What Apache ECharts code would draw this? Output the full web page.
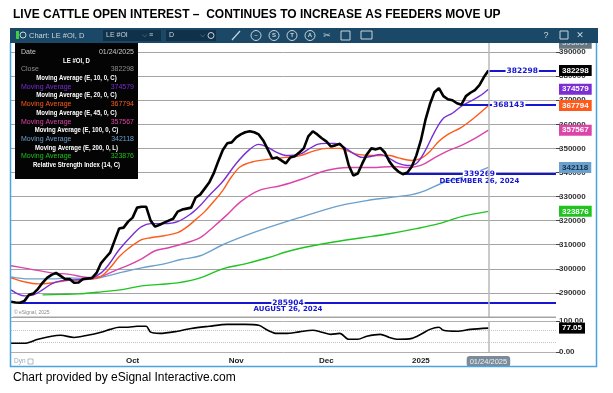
<!DOCTYPE html>
<html><head><meta charset="utf-8">
<script src="https://cdn.jsdelivr.net/npm/echarts/dist/echarts.min.js"></script>
<style>html,body{margin:0;padding:0;background:#fff}#c{width:613px;height:393px}</style>
</head><body><div id="c"></div>
<script>
// ---------------- DATA ----------------
const START_DATE = '2024-08-22';
const HOLIDAYS = ['2024-09-02','2024-11-28','2024-12-25','2025-01-01','2025-01-20'];
const FUTURE_DAYS = 15;
const closeVals = [
 286300,286000,285904,286700,289200,289800,291700,294200,296250,297500,
 298300,297100,295800,295800,294200,294300,295800,296000,296200,298300,
 302400,304600,306700,311700,316700,317100,319600,321250,325400,325800,
 325800,320000,317500,318300,319200,320000,320800,323750,324600,325000,
 325400,329600,330800,333300,335800,339600,344600,349200,352100,352500,
 354600,355800,356700,357100,356700,355800,353300,349600,345800,346250,
 345000,343750,346250,346700,348300,350000,355000,357100,355800,354200,
 352900,350800,351250,351900,350000,342900,338750,339600,343750,347500,
 350000,349600,350200,348300,344600,342100,340400,339269,340000,342500,
 347100,353300,361700,368300,373300,375000,371700,370400,370000,368750,
 368143,371700,373100,374200,376250,379600,382298
];
const ma10 = [[0,291250],[3,288750],[5,289170],[7,291250],[9,293750],[11,295000],[14,295420],[17,295630],[20,298330],[22,302500],[24,307920],[27,314170],[29,317500],[31,318750],[34,318750],[37,319580],[40,322920],[42,326250],[44,330420],[47,336250],[50,343750],[53,349580],[55,351670],[57,350420],[59,348330],[61,347080],[64,347500],[66,349580],[68,351670],[70,352080],[72,352080],[74,350420],[76,347920],[78,346250],[80,346670],[82,347500],[84,345830],[86,343750],[88,342920],[90,343750],[92,349170],[94,356670],[96,362500],[98,364580],[100,367500],[102,369580],[104,371670],[106,374579]];
const ma20 = [[0,296250],[3,294580],[6,293750],[9,294170],[12,295000],[15,295420],[18,295830],[20,296880],[22,300420],[24,305000],[26,308330],[29,312080],[31,312920],[34,313750],[37,315000],[39,317290],[41,320420],[43,323750],[45,327920],[47,332500],[49,338330],[51,342500],[54,344580],[57,345420],[61,346250],[64,346880],[67,348750],[70,350000],[73,350000],[75,348750],[77,347500],[80,347080],[84,347080],[86,346040],[89,345000],[91,345830],[93,348750],[95,352920],[97,355830],[100,358750],[103,362920],[106,367794]];
const ma45 = [[0,301250],[4,300000],[9,298330],[13,297710],[17,296460],[20,296880],[23,299170],[26,301460],[29,304170],[32,307500],[35,308750],[39,310830],[42,312920],[45,317500],[48,322500],[51,327920],[55,332500],[60,334580],[65,337500],[70,340830],[75,342080],[80,342080],[85,342500],[88,342080],[91,342920],[94,346040],[97,348960],[100,351250],[103,354170],[106,357567]];
const ma100 = [[0,296670],[4,295830],[9,295830],[13,296250],[18,295830],[21,296880],[25,298750],[29,300420],[34,302080],[38,303960],[42,305420],[47,310000],[52,313750],[57,317080],[64,321250],[73,326250],[79,328330],[84,329580],[89,330830],[92,332500],[96,335830],[99,337290],[102,339170],[106,342118]];
const ma200 = [[7,289170],[11,289380],[15,289580],[20,290420],[25,291460],[29,292920],[33,293540],[37,294170],[42,296250],[47,300000],[52,302080],[57,304580],[62,307500],[67,309580],[72,311250],[78,312920],[84,314580],[90,316670],[95,318750],[100,321670],[106,323876]];
const rsi = [[0,28],[3,28],[6,41],[9,51],[11,54],[14,47],[17,54],[20,64],[22,73],[24,80],[26,80],[28,83],[30,83],[31,64],[33,60],[37,67],[40,76],[44,83],[48,89],[52,89],[55,86],[57,70],[59,60],[61,60],[64,65],[67,70],[69,64],[71,57],[73,60],[75,41],[77,41],[79,51],[82,57],[84,47],[86,41],[89,44],[91,57],[93,73],[95,80],[96,70],[99,67],[102,73],[106,77.05]];
const maNames = ['E, 10, 0, C','E, 20, 0, C','E, 45, 0, C','E, 100, 0, C','E, 200, 0, L'];
const annotations = [
  {idx:2, date:'AUGUST 26, 2024'},
  {idx:87, date:'DECEMBER 26, 2024'},
  {idx:100, date:''},
  {idx:106, date:''}
];
const scaleTopValue = 393657;
const yTicksMain = {min:280000, max:394170, interval:10000};
const monthLabels = {'10':'Oct','11':'Nov','12':'Dec','01':'2025'};
const TITLE = 'LIVE CATTLE OPEN INTEREST \u2013  CONTINUES TO INCREASE AS FEEDERS MOVE UP';
const FOOTER = 'Chart provided by eSignal Interactive.com';

// ---------------- BUILD ----------------
const lastIdx = closeVals.length - 1;
const dates = (function(){
  const hol = new Set(HOLIDAYS), out = [];
  const d = new Date(START_DATE + 'T00:00:00Z');
  while (out.length < closeVals.length + FUTURE_DAYS) {
    const wd = d.getUTCDay(), s = d.toISOString().slice(0,10);
    if (wd !== 0 && wd !== 6 && !hol.has(s)) out.push(s);
    d.setUTCDate(d.getUTCDate() + 1);
  }
  return out;
})();
const lastCat = dates.length - 1;
const fmtDate = s => s.slice(5,7) + '/' + s.slice(8,10) + '/' + s.slice(0,4);
const labelAt = {};
for (let i = 1; i < dates.length; i++) {
  const m = dates[i].slice(5,7);
  if (m !== dates[i-1].slice(5,7) && monthLabels[m] && i <= lastIdx) labelAt[i] = monthLabels[m];
}
const lastOf = a => a[a.length-1][1];

const C = {
  purple:'#7a2ed4', orange:'#ff5a1c', pink:'#dc45a8', steel:'#6ca0cc', green:'#1fc41f', blue:'#1616d2'
};
const FF = 'Liberation Sans, Arial, sans-serif';
const NOLINE = {color:'rgba(0,0,0,0)', width:0.01, type:'solid'};
function tag(value, bg, fg, text) {
  return { yAxis: value, lineStyle:NOLINE,
    label:{show:true, position:'end', distance:3, formatter: text || String(value),
      backgroundColor:bg, color:fg, fontFamily:FF, fontWeight:'bold', fontSize:8, padding:[2,3,1,3]} };
}
function maSeries(name, data, color, tagFg) {
  return { name, type:'line', xAxisIndex:0, yAxisIndex:0, data, showSymbol:false, symbol:'none',
    smooth:0.35, z:3, lineStyle:{color, width:1.4}, itemStyle:{color},
    markLine:{silent:true, symbol:['none','none'], animation:false,
      data:[ tag(lastOf(data), color, tagFg || '#fff') ] } };
}
const annoLines = [];
annotations.forEach(a => {
  const v = closeVals[a.idx];
  annoLines.push([
    {coord:[dates[a.idx], v], lineStyle:{color:C.blue, width:2, type:'solid', opacity:1},
     label:{show:true, position:'middle', verticalAlign:'middle', distance:0, formatter:String(v),
       color:C.blue, fontFamily:'DejaVu Sans, Verdana, sans-serif', fontWeight:'bold', fontSize:7.5,
       backgroundColor:'#fff', padding:[0,1]}},
    {coord:[dates[lastCat], v]}
  ]);
  if (a.date) annoLines.push([
    {coord:[dates[a.idx], v], lineStyle:NOLINE,
     label:{show:true, position:'insideMiddleBottom', distance:3, formatter:a.date,
       color:C.blue, fontFamily:'DejaVu Sans, Verdana, sans-serif', fontWeight:'bold', fontSize:7}},
    {coord:[dates[lastCat], v]}
  ]);
});

// legend box
const legendRows = [
  {l:'Date', r:fmtDate(dates[lastIdx]), lc:'#c9c9c9', rc:'#c9c9c9'},
  {c:'LE #OI, D'},
  {l:'Close', r:String(closeVals[lastIdx]), lc:'#8e8e8e', rc:'#8e8e8e'}
];
const maCols = [C.purple, C.orange, C.pink, C.steel, C.green];
const maLast = [ma10, ma20, ma45, ma100, ma200].map(lastOf);
maNames.forEach((n,i) => {
  legendRows.push({c:'Moving Average (' + n + ')'});
  legendRows.push({l:'Moving Average', r:String(maLast[i]), lc:maCols[i], rc:maCols[i]});
});
legendRows.push({c:'Relative Strength Index (14, C)'});
const gfx = [];
gfx.push({type:'rect', z:100, shape:{x:15, y:43, width:123, height:136}, style:{fill:'#040404'}});
legendRows.forEach((row, k) => {
  const y = 52 + k * 8.7;
  if (row.c) gfx.push({type:'text', z:101, x:76.5, y, scaleX:0.86, style:{text:row.c, fill:'#fff', font:'bold 7px ' + FF, textAlign:'center', textVerticalAlign:'middle'}});
  else {
    gfx.push({type:'text', z:101, x:21, y, style:{text:row.l, fill:row.lc, font:'7px ' + FF, textAlign:'left', textVerticalAlign:'middle'}});
    gfx.push({type:'text', z:101, x:134, y, style:{text:row.r, fill:row.rc, font:'7px ' + FF, textAlign:'right', textVerticalAlign:'middle'}});
  }
});
// toolbar
gfx.push({type:'rect', z:100, shape:{x:10, y:28, width:588, height:15}, style:{fill:'#1a4866'}});
gfx.push({type:'rect', z:101, shape:{x:16, y:31, width:3, height:8}, style:{fill:'#3ccf3c'}});
gfx.push({type:'circle', z:101, shape:{cx:23, cy:35, r:3}, style:{fill:'none', stroke:'#c9d5de', lineWidth:1}});
gfx.push({type:'text', z:101, x:29, y:35.5, style:{text:'Chart: LE #OI, D', fill:'#c9d5de', font:'7.5px ' + FF, textVerticalAlign:'middle'}});
gfx.push({type:'rect', z:101, shape:{x:103, y:30, width:58, height:11}, style:{fill:'#0f3149'}});
gfx.push({type:'text', z:101, x:106, y:35.5, style:{text:'LE #OI', fill:'#c9d5de', font:'7px ' + FF, textVerticalAlign:'middle'}});
gfx.push({type:'text', z:101, x:142, y:35.5, style:{text:'\u2335 \u2261', fill:'#c9d5de', font:'7px ' + FF, textVerticalAlign:'middle'}});
gfx.push({type:'rect', z:101, shape:{x:166, y:30, width:50, height:11}, style:{fill:'#0f3149'}});
gfx.push({type:'text', z:101, x:169, y:35.5, style:{text:'D', fill:'#c9d5de', font:'7px ' + FF, textVerticalAlign:'middle'}});
gfx.push({type:'text', z:101, x:200, y:35.5, style:{text:'\u2335', fill:'#c9d5de', font:'7px ' + FF, textVerticalAlign:'middle'}});
gfx.push({type:'circle', z:101, shape:{cx:211, cy:35.5, r:3}, style:{fill:'none', stroke:'#c9d5de', lineWidth:1}});
gfx.push({type:'line', z:101, shape:{x1:232, y1:40, x2:240, y2:31}, style:{stroke:'#c9d5de', lineWidth:1.2}});
['~','S','T','A'].forEach((t,i) => {
  const cx = 256 + i * 18;
  gfx.push({type:'circle', z:101, shape:{cx, cy:35.5, r:5}, style:{fill:'none', stroke:'#c9d5de', lineWidth:1}});
  gfx.push({type:'text', z:101, x:cx, y:35.5, style:{text:t, fill:'#c9d5de', font:'bold 6px ' + FF, textAlign:'center', textVerticalAlign:'middle'}});
});
gfx.push({type:'text', z:101, x:327, y:35.5, style:{text:'\u2702', fill:'#c9d5de', font:'9px DejaVu Sans', textAlign:'center', textVerticalAlign:'middle'}});
gfx.push({type:'rect', z:101, shape:{x:341, y:31, width:9, height:9}, style:{fill:'none', stroke:'#c9d5de', lineWidth:1}});
gfx.push({type:'rect', z:101, shape:{x:361, y:31, width:11, height:8}, style:{fill:'none', stroke:'#c9d5de', lineWidth:1}});
gfx.push({type:'text', z:101, x:546, y:35.5, style:{text:'?', fill:'#c9d5de', font:'9px ' + FF, textAlign:'center', textVerticalAlign:'middle'}});
gfx.push({type:'rect', z:101, shape:{x:560, y:31, width:8, height:8}, style:{fill:'none', stroke:'#c9d5de', lineWidth:1}});
gfx.push({type:'text', z:101, x:580, y:35.5, style:{text:'\u2715', fill:'#c9d5de', font:'9px DejaVu Sans', textAlign:'center', textVerticalAlign:'middle'}});
// frame
gfx.push({type:'line', z:100, shape:{x1:10.5, y1:43, x2:10.5, y2:367}, style:{stroke:'#49a3e0', lineWidth:1.5}});
gfx.push({type:'line', z:100, shape:{x1:596.5, y1:43, x2:596.5, y2:367}, style:{stroke:'#49a3e0', lineWidth:1.5}});
gfx.push({type:'line', z:100, shape:{x1:10, y1:366.5, x2:597, y2:366.5}, style:{stroke:'#49a3e0', lineWidth:1.5}});
// titles & misc texts
gfx.push({type:'text', z:100, x:13, y:15, style:{text:TITLE, fill:'#000', font:'bold 12px ' + FF, textVerticalAlign:'middle'}});
gfx.push({type:'text', z:100, x:13, y:378, style:{text:FOOTER, fill:'#000', font:'12px ' + FF, textVerticalAlign:'middle'}});
gfx.push({type:'text', z:100, x:14, y:313, style:{text:'\u00a9 eSignal, 2025', fill:'#8a8a8a', font:'5px ' + FF, textVerticalAlign:'middle'}});
gfx.push({type:'text', z:100, x:14, y:361, style:{text:'Dyn', fill:'#9aaab8', font:'6.5px ' + FF, textVerticalAlign:'middle'}});
gfx.push({type:'rect', z:100, shape:{x:28, y:359, width:5, height:5}, style:{fill:'none', stroke:'#9aaab8', lineWidth:0.8}});
gfx.push({type:'line', z:100, shape:{x1:13, y1:317, x2:556, y2:317}, style:{stroke:'#a4a4a4', lineWidth:1}});

const axisLabelStyle = {fontFamily:FF, fontSize:8, fontWeight:'bold', color:'#333', margin:3};
const option = {
  animation:false,
  backgroundColor:'#fff',
  axisPointer:{triggerOn:'none'},
  grid:[
    {left:11, right:57, top:42, bottom:76},
    {left:11, right:57, top:321, bottom:41}
  ],
  xAxis:[
    {type:'category', gridIndex:0, data:dates, boundaryGap:false,
     axisLine:{show:false}, axisTick:{show:false}, axisLabel:{show:false}, splitLine:{show:false},
     axisPointer:{show:true, status:'show', value:lastIdx, type:'line', lineStyle:{color:'#b9b9b9', width:1.5, type:'solid'}, label:{show:false}}},
    {type:'category', gridIndex:1, data:dates, boundaryGap:false,
     axisLine:{show:false}, axisTick:{show:false}, splitLine:{show:false},
     axisLabel:{show:true, interval:(i) => !!labelAt[i], formatter:(v,i) => labelAt[i] || '', fontFamily:FF, fontSize:8, fontWeight:'bold', color:'#222', margin:5},
     axisPointer:{show:true, status:'show', value:lastIdx, type:'line', lineStyle:{color:'#b9b9b9', width:1.5, type:'solid'},
       label:{show:true, formatter:(p) => fmtDate(String(p.value)), backgroundColor:'#7b8b99', color:'#eef2f5', fontFamily:FF, fontSize:7.5, padding:[2,3,1,3], margin:4}}}
  ],
  yAxis:[
    {type:'value', gridIndex:0, position:'right', min:yTicksMain.min, max:yTicksMain.max, interval:yTicksMain.interval,
     axisLine:{show:false}, axisTick:{show:true, length:4, lineStyle:{color:'#444'}},
     axisLabel:Object.assign({showMinLabel:false, showMaxLabel:false, formatter:v => String(v)}, axisLabelStyle),
     splitLine:{show:true, lineStyle:{color:'#a4a4a4', width:1}}},
    {type:'value', gridIndex:1, position:'right', min:0, max:100, interval:100,
     axisLine:{show:false}, axisTick:{show:true, length:4, lineStyle:{color:'#444'}},
     axisLabel:Object.assign({formatter:v => v.toFixed(2)}, axisLabelStyle),
     splitLine:{show:true, lineStyle:{color:'#b0b0b0', width:1}}}
  ],
  series:[
    maSeries('MA200', ma200, C.green),
    maSeries('MA100', ma100, C.steel, '#10304a'),
    maSeries('MA45', ma45, C.pink),
    maSeries('MA20', ma20, C.orange),
    maSeries('MA10', ma10, C.purple),
    { name:'Close', type:'line', xAxisIndex:0, yAxisIndex:0, data:closeVals, showSymbol:false, symbol:'none', z:5,
      lineStyle:{color:'#000', width:2.6}, itemStyle:{color:'#000'},
      markLine:{silent:true, symbol:['none','none'], animation:false, z:4,
        data: annoLines.concat([ tag(closeVals[lastIdx], '#000', '#fff'), tag(scaleTopValue, '#68767f', '#c4ccd2') ]) } },
    { name:'RSI', type:'line', xAxisIndex:1, yAxisIndex:1, data:rsi, showSymbol:false, symbol:'none', smooth:0.3, z:5,
      lineStyle:{color:'#000', width:1.6}, itemStyle:{color:'#000'},
      markLine:{silent:true, symbol:['none','none'], animation:false,
        data:[ {yAxis:70, lineStyle:{type:'dotted', color:'#c4c4c4', width:1}, label:{show:false}},
               {yAxis:30, lineStyle:{type:'dotted', color:'#c4c4c4', width:1}, label:{show:false}},
               tag(lastOf(rsi), '#000', '#fff', lastOf(rsi).toFixed(2)) ] } }
  ],
  graphic: gfx
};
const chart = echarts.init(document.getElementById('c'), null, {renderer:'canvas'});
chart.setOption(option);
</script></body></html>
